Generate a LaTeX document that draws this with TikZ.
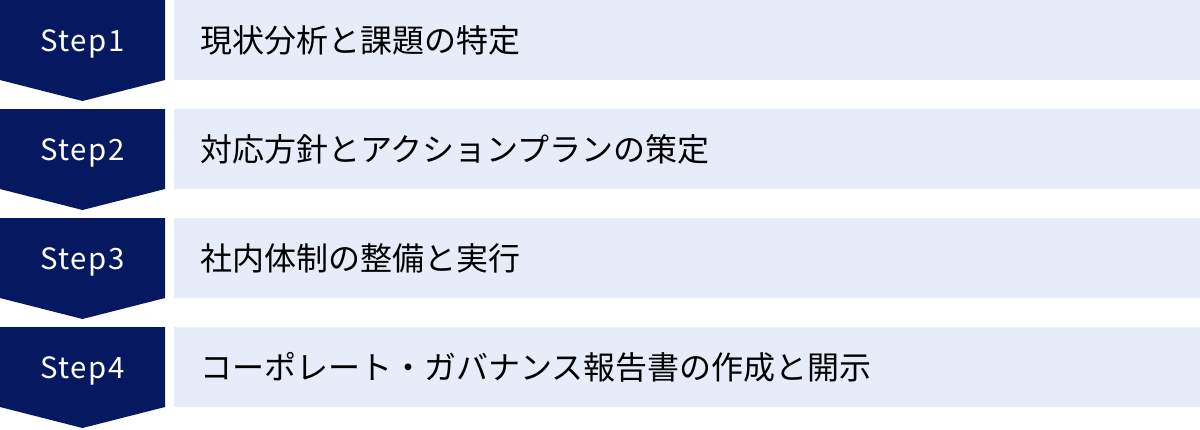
\documentclass[tikz,border=0pt]{standalone}
\usepackage{fontspec}
\setmainfont{Noto Sans CJK JP}
\newfontfamily\stepfont[LetterSpace=5]{Noto Sans CJK JP}
\usepackage{tikz}
\usetikzlibrary{positioning}
\definecolor{stepnavy}{HTML}{061860}
\definecolor{barblue}{HTML}{E6ECF8}
\begin{document}
\begin{tikzpicture}[x=0.75pt,y=-0.75pt,
  bar/.style={fill=barblue,anchor=north west,inner sep=0pt,minimum width=769.5pt,minimum height=60pt},
  steptext/.style={text=white,font=\stepfont\fontsize{22}{26}\selectfont},
  bartext/.style={text=black,anchor=west,inner sep=0pt,font=\fontsize{24}{28}\selectfont}]
\useasboundingbox[fill=white] (0,0) rectangle (1200,429);
\fill[stepnavy] (0,0) -- (165,0) -- (165,80) -- (82.5,101) -- (0,80) -- cycle;
\fill[stepnavy] (0,109) -- (165,109) -- (165,189) -- (82.5,210) -- (0,189) -- cycle;
\fill[stepnavy] (0,218) -- (165,218) -- (165,298) -- (82.5,319) -- (0,298) -- cycle;
\fill[stepnavy] (0,327) -- (165,327) -- (165,407) -- (82.5,428) -- (0,407) -- cycle;
\node[steptext] (step1) at (82.5,44) {Step1};
\node[steptext] (step2) at (82.5,153) {Step2};
\node[steptext] (step3) at (82.5,262) {Step3};
\node[steptext] (step4) at (82.5,371) {Step4};
\node[bar] (bar1) at (174,0) {};
\node[bar] (bar2) at (174,109) {};
\node[bar] (bar3) at (174,218) {};
\node[bar] (bar4) at (174,327) {};
\node[bartext,right=19.5pt of bar1.west] (task1) {現状分析と課題の特定};
\node[bartext,right=19.5pt of bar2.west] (task2) {対応方針とアクションプランの策定};
\node[bartext,right=19.5pt of bar3.west] (task3) {社内体制の整備と実行};
\node[bartext,right=19.5pt of bar4.west] (task4) {コーポレート・ガバナンス報告書の作成と開示};
\end{tikzpicture}
\end{document}
